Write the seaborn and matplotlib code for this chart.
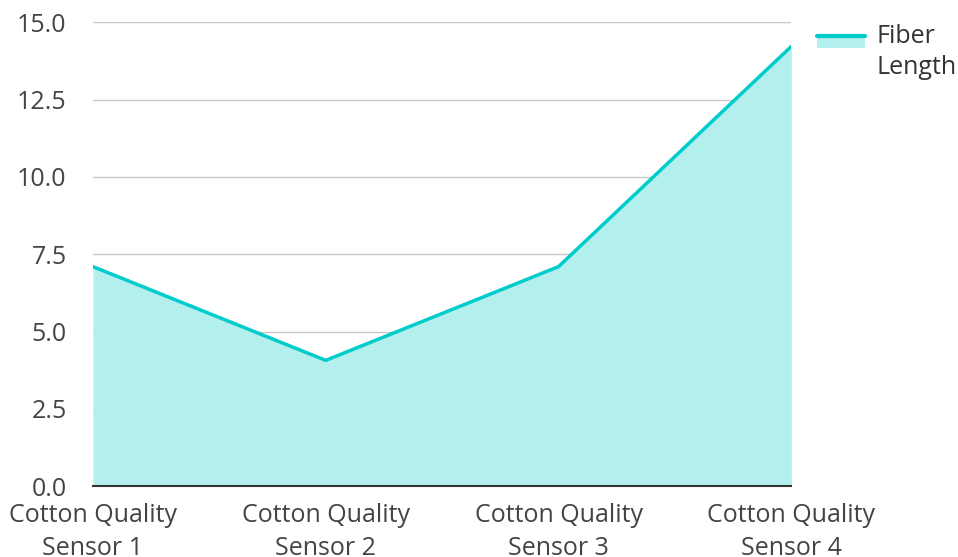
import matplotlib
matplotlib.use("Agg")
import matplotlib.pyplot as plt
import seaborn as sns
import pandas as pd
from matplotlib.legend_handler import HandlerBase
from matplotlib.patches import Rectangle
from matplotlib.lines import Line2D

categories = ["Cotton Quality\nSensor 1", "Cotton Quality\nSensor 2",
              "Cotton Quality\nSensor 3", "Cotton Quality\nSensor 4"]
fiber_length = [7.1, 4.07, 7.1, 14.22]
y_ticks = [0.0, 2.5, 5.0, 7.5, 10.0, 12.5, 15.0]

LINE_COLOR = "#00cccc"
FILL_COLOR = "#b2efed"
FS = 18


class AreaHandler(HandlerBase):
    # legend swatch: line on top, light fill underneath, lifted to the first text line
    def create_artists(self, legend, orig_handle, xdescent, ydescent,
                       width, height, fontsize, trans):
        shift = fontsize * 0.3
        top = height + shift
        bottom = top - fontsize * 0.45
        rect = Rectangle((-xdescent, bottom - ydescent), width, top - bottom,
                         facecolor=FILL_COLOR, edgecolor="none", transform=trans)
        line = Line2D([-xdescent, -xdescent + width], [top - ydescent, top - ydescent],
                      color=LINE_COLOR, lw=3, transform=trans)
        return [rect, line]


def main():
    df = pd.DataFrame({"x": range(len(categories)), "value": fiber_length})

    sns.set_style("white")
    plt.rcParams["font.family"] = ["Open Sans", "DejaVu Sans"]

    fig, ax = plt.subplots(figsize=(9.58, 5.57), dpi=100)
    fig.subplots_adjust(left=0.097, right=0.826, top=0.96, bottom=0.127)

    ax.fill_between(df["x"], df["value"], 0, color=FILL_COLOR, lw=0, zorder=1)
    sns.lineplot(data=df, x="x", y="value", ax=ax, color=LINE_COLOR, lw=2.5, zorder=3)

    ax.set_xlim(0, len(categories) - 1)
    ax.set_ylim(0, 15)
    ax.set_yticks(y_ticks)
    ax.set_yticklabels([f"{v:.1f}" for v in y_ticks])
    ax.set_xticks(df["x"])
    ax.set_xticklabels(categories, linespacing=1.4)
    ax.set_xlabel("")
    ax.set_ylabel("")

    ax.yaxis.grid(True, color="#c8c8c8", lw=1)
    for gl in ax.get_ygridlines():
        gl.set_zorder(2)
    for side in ["top", "right", "left"]:
        ax.spines[side].set_visible(False)
    ax.spines["bottom"].set_color("#333333")
    ax.spines["bottom"].set_linewidth(1.5)
    ax.spines["bottom"].set_zorder(4)

    ax.tick_params(axis="both", length=0, labelsize=FS, labelcolor="#444444")
    ax.tick_params(axis="x", pad=12)
    ax.tick_params(axis="y", pad=19)

    leg = ax.legend([object()], ["Fiber\nLength"], handler_map={object: AreaHandler()},
                    loc="upper left", bbox_to_anchor=(1.037, 0.997), frameon=False,
                    fontsize=FS, labelcolor="#333333", handlelength=1.92,
                    handletextpad=0.44, borderpad=0, borderaxespad=0)
    for t in leg.get_texts():
        t.set_linespacing(1.35)

    fig.savefig("out.png", dpi=100)


if __name__ == "__main__":
    main()
